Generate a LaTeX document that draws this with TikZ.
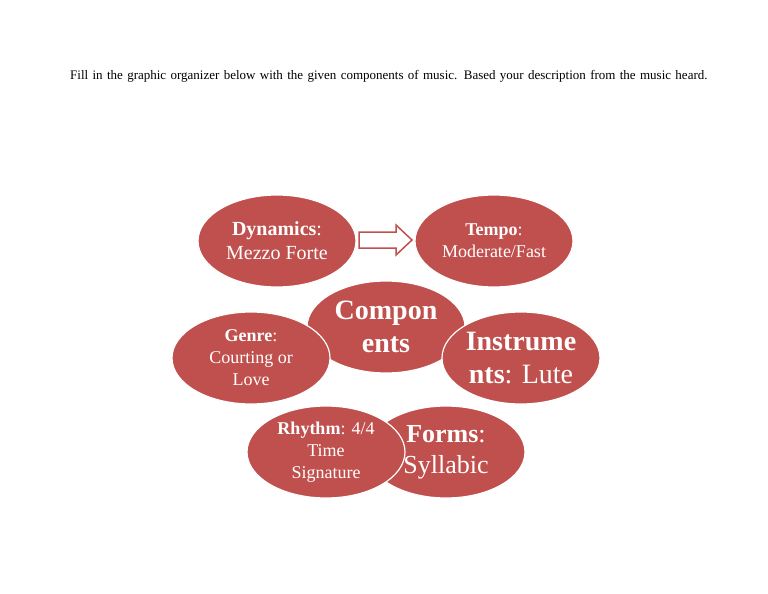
\documentclass[tikz,border=0pt]{standalone}
\usepackage{fontspec}
\setmainfont{Liberation Serif}
\usetikzlibrary{shapes.geometric}
\definecolor{ered}{HTML}{C0504D}
\tikzset{oval/.style={ellipse,fill=ered,draw=white,line width=1.2pt,minimum width=158pt,minimum height=92pt,inner sep=0pt,text=white,align=center}}
\begin{document}
\begin{tikzpicture}[x=1pt,y=-1pt]
\useasboundingbox (0,0) rectangle (768,594);
\node[anchor=north west,align=left,font=\fontsize{13}{18}\selectfont,text width=640pt,inner sep=0pt] (hdr) at (70,70) {Fill in the graphic organizer below with the given components of music. Based your description from the music heard.};
\node[oval,font=\fontsize{20}{24}\selectfont] (dyn) at (277,241) {\textbf{Dynamics}:\\Mezzo Forte};
\node[oval,font=\fontsize{18}{22}\selectfont] (tem) at (494,241) {\textbf{Tempo}:\\Moderate/Fast};
\node[oval,font=\fontsize{28}{33}\selectfont\bfseries] (com) at (386,327) {Compon\\ents};
\node[oval,font=\fontsize{18}{22}\selectfont] (gen) at (251,358) {\textbf{Genre}:\\Courting or\\Love};
\node[oval,font=\fontsize{28}{33}\selectfont] (ins) at (521,358) {\textbf{Instrume}\\\textbf{nts}: Lute};
\node[oval,font=\fontsize{26}{31}\selectfont] (frm) at (446,452) {\textbf{Forms}:\\Syllabic};
\node[oval,font=\fontsize{18}{22}\selectfont] (rhy) at (326,452) {\textbf{Rhythm}: 4/4\\Time\\Signature};
\draw[ered,line width=1.5pt,fill=white,line join=miter] (359,232) -- (396,232) -- (396,225) -- (412,240) -- (396,255) -- (396,248) -- (359,248) -- cycle;
\end{tikzpicture}
\end{document}
